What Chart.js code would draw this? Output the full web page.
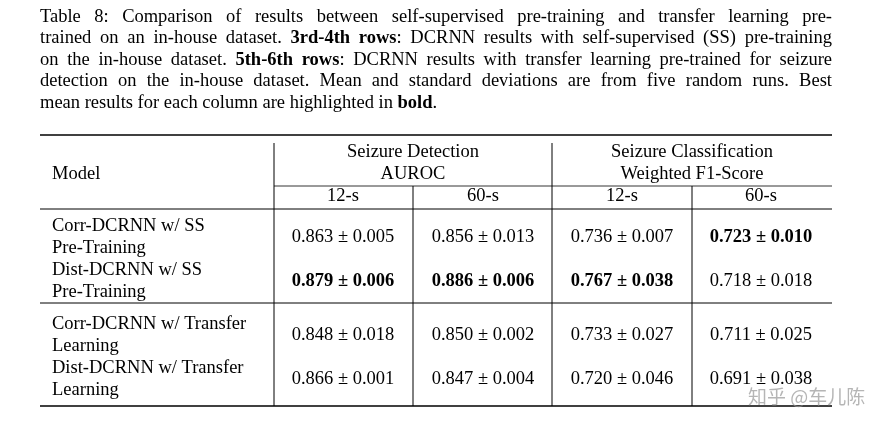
<!DOCTYPE html>
<html>
<head>
<meta charset="utf-8">
<script src="https://cdn.jsdelivr.net/npm/chart.js@4/dist/chart.umd.min.js"></script>
<style>body{margin:0;background:#fff}</style>
</head>
<body>
<canvas id="myChart" width="873" height="431"></canvas>
<script>
// caption, ** marks bold runs
const captionLines = [
    'Table 8:  Comparison of results between self-supervised pre-training and transfer learning pre-',
    'trained on an in-house dataset. **3rd-4th rows**: DCRNN results with self-supervised (SS) pre-training',
    'on the in-house dataset. **5th-6th rows**: DCRNN results with transfer learning pre-trained for seizure',
    'detection on the in-house dataset.  Mean and standard deviations are from five random runs.  Best',
    'mean results for each column are highlighted in **bold**.'
];
const groups = [['Seizure Detection', 'AUROC'], ['Seizure Classification', 'Weighted F1-Score']];
const windows = ['12-s', '60-s', '12-s', '60-s'];
const models = [
    ['Corr-DCRNN w/ SS', 'Pre-Training'],
    ['Dist-DCRNN w/ SS', 'Pre-Training'],
    ['Corr-DCRNN w/ Transfer', 'Learning'],
    ['Dist-DCRNN w/ Transfer', 'Learning']
];
const means = [
    ['0.863', '0.856', '0.736', '0.723'],
    ['0.879', '0.886', '0.767', '0.718'],
    ['0.848', '0.850', '0.733', '0.711'],
    ['0.866', '0.847', '0.720', '0.691']
];
const stds = [
    ['0.005', '0.013', '0.007', '0.010'],
    ['0.006', '0.006', '0.038', '0.018'],
    ['0.018', '0.002', '0.027', '0.025'],
    ['0.001', '0.004', '0.046', '0.038']
];
const bold = [
    [false, false, false, true],
    [true, true, true, false],
    [false, false, false, false],
    [false, false, false, false]
];

const FS = 18.5;
const serif = (b) => (b ? 'bold ' : '') + FS + 'px "Liberation Serif", "DejaVu Serif", serif';

const tablePlugin = {
    id: 'table',
    afterDraw(chart) {
        const c = chart.ctx, X = chart.scales.x, Y = chart.scales.y;
        const px = v => X.getPixelForValue(v), py = v => Y.getPixelForValue(v);
        c.save();
        c.fillStyle = '#000';
        c.strokeStyle = '#000';
        c.textBaseline = 'middle';

        // caption, justified
        const left = 40, right = 832;
        captionLines.forEach((line, i) => {
            const words = [];
            line.split('**').forEach((part, k) => {
                part.split(' ').forEach(w => { if (w) words.push({ w, b: k % 2 === 1 }); });
            });
            let total = 0, gaps = 0;
            words.forEach((o, j) => {
                c.font = serif(o.b); o.width = c.measureText(o.w).width; total += o.width;
                const next = words[j + 1];
                o.glue = !!(next && /^[:.,]/.test(next.w));
                if (next && !o.glue) gaps++;
            });
            c.font = serif(false);
            const last = i === captionLines.length - 1;
            const gap = last ? c.measureText(' ').width : (px(right) - px(left) - total) / gaps;
            let x = px(left);
            const y = py(17 + i * 21.5);
            words.forEach(o => {
                c.font = serif(o.b);
                c.textAlign = 'left';
                c.fillText(o.w, x, y);
                x += o.width;
                if (!o.glue) x += gap;
            });
        });

        const hline = (y, x0, x1, w) => {
            c.lineWidth = w; c.beginPath(); c.moveTo(px(x0), py(y)); c.lineTo(px(x1), py(y)); c.stroke();
        };
        const vline = (x, y0, y1) => {
            c.lineWidth = 1; c.beginPath(); c.moveTo(px(x), py(y0)); c.lineTo(px(x), py(y1)); c.stroke();
        };
        hline(135, 40, 832, 1.6);
        hline(186, 274, 832, 0.8);
        hline(209, 40, 832, 1);
        hline(303, 40, 832, 1);
        hline(406, 40, 832, 1.6);
        vline(274, 143, 406);
        vline(552, 143, 406);
        vline(413, 186, 406);
        vline(692, 186, 406);

        c.font = serif(false);
        c.textAlign = 'left';
        c.fillText('Model', px(52), py(174));
        c.textAlign = 'center';
        const gx = [413, 692];
        groups.forEach((g, i) => {
            c.fillText(g[0], px(gx[i]), py(152));
            c.fillText(g[1], px(gx[i]), py(174));
        });
        const cx = [343, 483, 622, 761];
        windows.forEach((w, i) => c.fillText(w, px(cx[i]), py(196)));

        const rowY = [237, 281, 335, 379];
        models.forEach((m, r) => {
            c.font = serif(false);
            c.textAlign = 'left';
            c.fillText(m[0], px(52), py(rowY[r] - 11));
            c.fillText(m[1], px(52), py(rowY[r] + 11));
            c.textAlign = 'center';
            means[r].forEach((v, k) => {
                c.font = serif(bold[r][k]);
                c.fillText(v + ' ± ' + stds[r][k], px(cx[k]), py(rowY[r]));
            });
        });

        // watermark
        c.font = '19px "Noto Sans CJK SC", sans-serif';
        c.fillStyle = 'rgba(150,150,150,0.7)';
        c.textAlign = 'left';
        c.fillText('知乎 @车儿陈', px(748), py(397));
        c.restore();
    }
};

let ctx = document.getElementById('myChart').getContext('2d');
let myChart = new Chart(ctx, {
    type: 'scatter',
    data: { datasets: [{ data: [] }] },
    options: {
        responsive: false,
        animation: false,
        layout: { padding: 0 },
        plugins: { legend: { display: false }, tooltip: { enabled: false } },
        scales: {
            x: { type: 'linear', min: 0, max: 873, display: false },
            y: { type: 'linear', min: 0, max: 431, reverse: true, display: false }
        }
    },
    plugins: [tablePlugin]
});
</script>
</body>
</html>
